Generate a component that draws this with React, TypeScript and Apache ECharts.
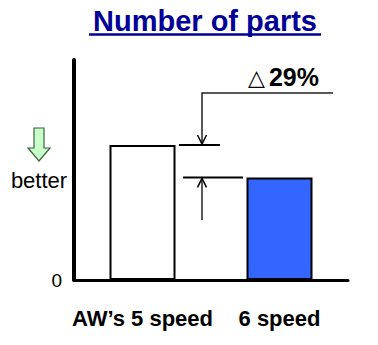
import React, { useEffect, useRef } from 'react';
import * as echarts from 'echarts';

const categories = ['AW’s 5 speed', '6 speed'];
const partCounts = [100, 76];
const barColors = ['#FFFFFF', '#3366FF'];
const axisMax = 163;
const titleText = 'Number of parts';
const reductionText = '29%';
const betterText = 'better';

export default function App() {
  const ref = useRef<HTMLDivElement>(null);
  useEffect(() => {
    const chart = echarts.init(ref.current!, null, { renderer: 'svg' });
    chart.setOption({
      animation: false,
      grid: { left: 74, right: 30, top: 60, bottom: 65 },
      xAxis: {
        type: 'category',
        data: categories,
        axisLine: { lineStyle: { color: '#000', width: 3 } },
        axisTick: { show: false },
        axisLabel: {
          interval: 0,
          hideOverlap: false,
          margin: 27,
          fontSize: 22,
          fontWeight: 'bold',
          color: '#000',
          fontFamily: 'Liberation Sans, Arial, sans-serif',
        },
      },
      yAxis: {
        type: 'value',
        min: 0,
        max: axisMax,
        interval: axisMax,
        axisLine: { show: true, lineStyle: { color: '#000', width: 4 } },
        axisTick: { show: false },
        splitLine: { show: false },
        axisLabel: {
          formatter: (v: number) => (v === 0 ? '0' : ''),
          fontSize: 19,
          color: '#000',
          margin: 12,
          padding: [6, 0, 0, 0],
          fontFamily: 'Liberation Sans, Arial, sans-serif',
        },
      },
      series: [
        {
          type: 'bar',
          barWidth: 66,
          data: partCounts.map((v, i) => ({
            value: v,
            itemStyle: { color: barColors[i], borderColor: '#000', borderWidth: 2 },
          })),
        },
      ],
    });

    const yA = chart.convertToPixel({ yAxisIndex: 0 }, partCounts[0]) as number;
    const yB = chart.convertToPixel({ yAxisIndex: 0 }, partCounts[1]) as number;
    const vx = 202;
    const lineColor = '#222';
    chart.setOption({
      graphic: [
        {
          type: 'text',
          x: 205,
          y: 21,
          style: {
            text: titleText,
            fontSize: 29,
            fontWeight: 'bold',
            fill: '#000099',
            align: 'center',
            verticalAlign: 'middle',
            fontFamily: 'Liberation Sans, Arial, sans-serif',
          },
        },
        { type: 'line', shape: { x1: 89, y1: 34.5, x2: 321, y2: 34.5 }, style: { stroke: '#000099', lineWidth: 2.5 } },
        {
          type: 'text',
          x: 248,
          y: 77,
          style: {
            text: '{t|△}{p|' + reductionText + '}',
            verticalAlign: 'middle',
            rich: {
              t: { fontSize: 22, fill: '#000', fontFamily: 'DejaVu Sans, sans-serif', padding: [0, 4, 0, 0] },
              p: { fontSize: 25, fontWeight: 'bold', fill: '#000', fontFamily: 'Liberation Sans, Arial, sans-serif' },
            },
          },
        },
        // bracket lines
        { type: 'polyline', shape: { points: [[333, 93], [vx, 93], [vx, yA]] }, style: { stroke: lineColor, lineWidth: 1.5, fill: 'none' } },
        { type: 'polyline', shape: { points: [[vx - 4.5, yA - 10], [vx, yA - 1], [vx + 4.5, yA - 10]] }, style: { stroke: '#000', lineWidth: 1.5, fill: 'none' } },
        { type: 'line', shape: { x1: 179, y1: yA, x2: 220, y2: yA }, style: { stroke: '#000', lineWidth: 2 } },
        { type: 'line', shape: { x1: 183, y1: yB, x2: 243, y2: yB }, style: { stroke: '#000', lineWidth: 2 } },
        { type: 'line', shape: { x1: vx, y1: yB, x2: vx, y2: 220 }, style: { stroke: lineColor, lineWidth: 1.5 } },
        { type: 'polyline', shape: { points: [[vx - 4.5, yB + 10], [vx, yB + 1], [vx + 4.5, yB + 10]] }, style: { stroke: '#000', lineWidth: 1.5, fill: 'none' } },
        // better arrow
        {
          type: 'polygon',
          shape: { points: [[34, 128], [44, 128], [44, 148], [50, 148], [39, 161], [28, 148], [34, 148]] },
          style: { fill: '#C8FFC8', stroke: '#3F5F3F', lineWidth: 1.2 },
        },
        {
          type: 'text',
          x: 39,
          y: 180,
          style: {
            text: betterText,
            fontSize: 22,
            fill: '#000',
            align: 'center',
            verticalAlign: 'middle',
            fontFamily: 'Liberation Sans, Arial, sans-serif',
          },
        },
      ],
    });
    return () => chart.dispose();
  }, []);
  return <div ref={ref} style={{ position: 'absolute', left: 0, top: 0, width: 378, height: 345 }} />;
}
